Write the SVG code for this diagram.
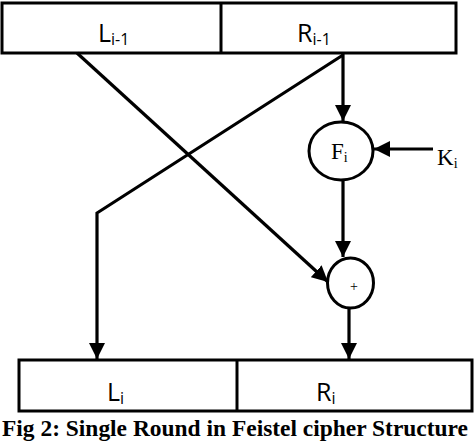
<svg xmlns="http://www.w3.org/2000/svg" width="474" height="446" viewBox="0 0 474 446">
<style>
.box{fill:#fff;stroke:#000;stroke-width:3}
.ln{fill:none;stroke:#000;stroke-width:3.2}
.sans{font-family:"Open Sans","Liberation Sans",sans-serif;fill:#000}
.serif{font-family:"Liberation Serif","Times New Roman",serif;fill:#000}
</style>
<defs>
<marker id="ah" viewBox="0 0 10 10" refX="10" refY="5" markerWidth="5" markerHeight="5" markerUnits="strokeWidth" orient="auto">
<path d="M0,0 L10,5 L0,10 Z" fill="#000"/>
</marker>
</defs>
<rect width="474" height="446" fill="#fff"/>
<g id="top-block">
<rect class="box" x="2" y="3" width="454" height="50"/>
<line x1="221" y1="3" x2="221" y2="53" stroke="#000" stroke-width="3"/>
<text class="sans" x="98" y="42" font-size="25">L<tspan font-size="16" dy="3">i-1</tspan></text>
<text class="sans" x="297" y="42" font-size="25">R<tspan font-size="16" dy="3">i-1</tspan></text>
</g>
<g id="bottom-block">
<rect class="box" x="19" y="360" width="453" height="51"/>
<line x1="237" y1="360" x2="237" y2="411" stroke="#000" stroke-width="3"/>
<text class="sans" x="107" y="401" font-size="25">L<tspan font-size="16" dy="3">i</tspan></text>
<text class="sans" x="316" y="401" font-size="25">R<tspan font-size="16" dy="3">i</tspan></text>
</g>
<g id="F">
<ellipse cx="341" cy="151" rx="32" ry="29" fill="#fff" stroke="#000" stroke-width="3"/>
<text class="serif" x="331" y="159" font-size="23">F<tspan font-size="14" dy="3">i</tspan></text>
</g>
<g id="xor">
<ellipse cx="350.5" cy="283" rx="23" ry="25" fill="#fff" stroke="#000" stroke-width="3"/>
<text class="serif" x="354" y="291" font-size="14" text-anchor="middle">+</text>
</g>
<g id="K">
<text class="serif" x="437" y="165" font-size="23">K<tspan font-size="14" dy="3">i</tspan></text>
</g>
<g id="connectors">
<line class="ln" x1="77" y1="53" x2="328" y2="282" marker-end="url(#ah)"/>
<polyline class="ln" points="343,55 97,213 97,359" marker-end="url(#ah)"/>
<line class="ln" x1="343" y1="53" x2="343" y2="121" marker-end="url(#ah)"/>
<line class="ln" x1="433" y1="149" x2="374" y2="149" marker-end="url(#ah)"/>
<line class="ln" x1="343" y1="180" x2="343" y2="257" marker-end="url(#ah)"/>
<line class="ln" x1="349" y1="308" x2="349" y2="359" marker-end="url(#ah)"/>
</g>
<text class="serif" x="2" y="436" font-size="23" font-weight="bold" textLength="466" lengthAdjust="spacingAndGlyphs">Fig 2: Single Round in Feistel cipher Structure</text>
</svg>
